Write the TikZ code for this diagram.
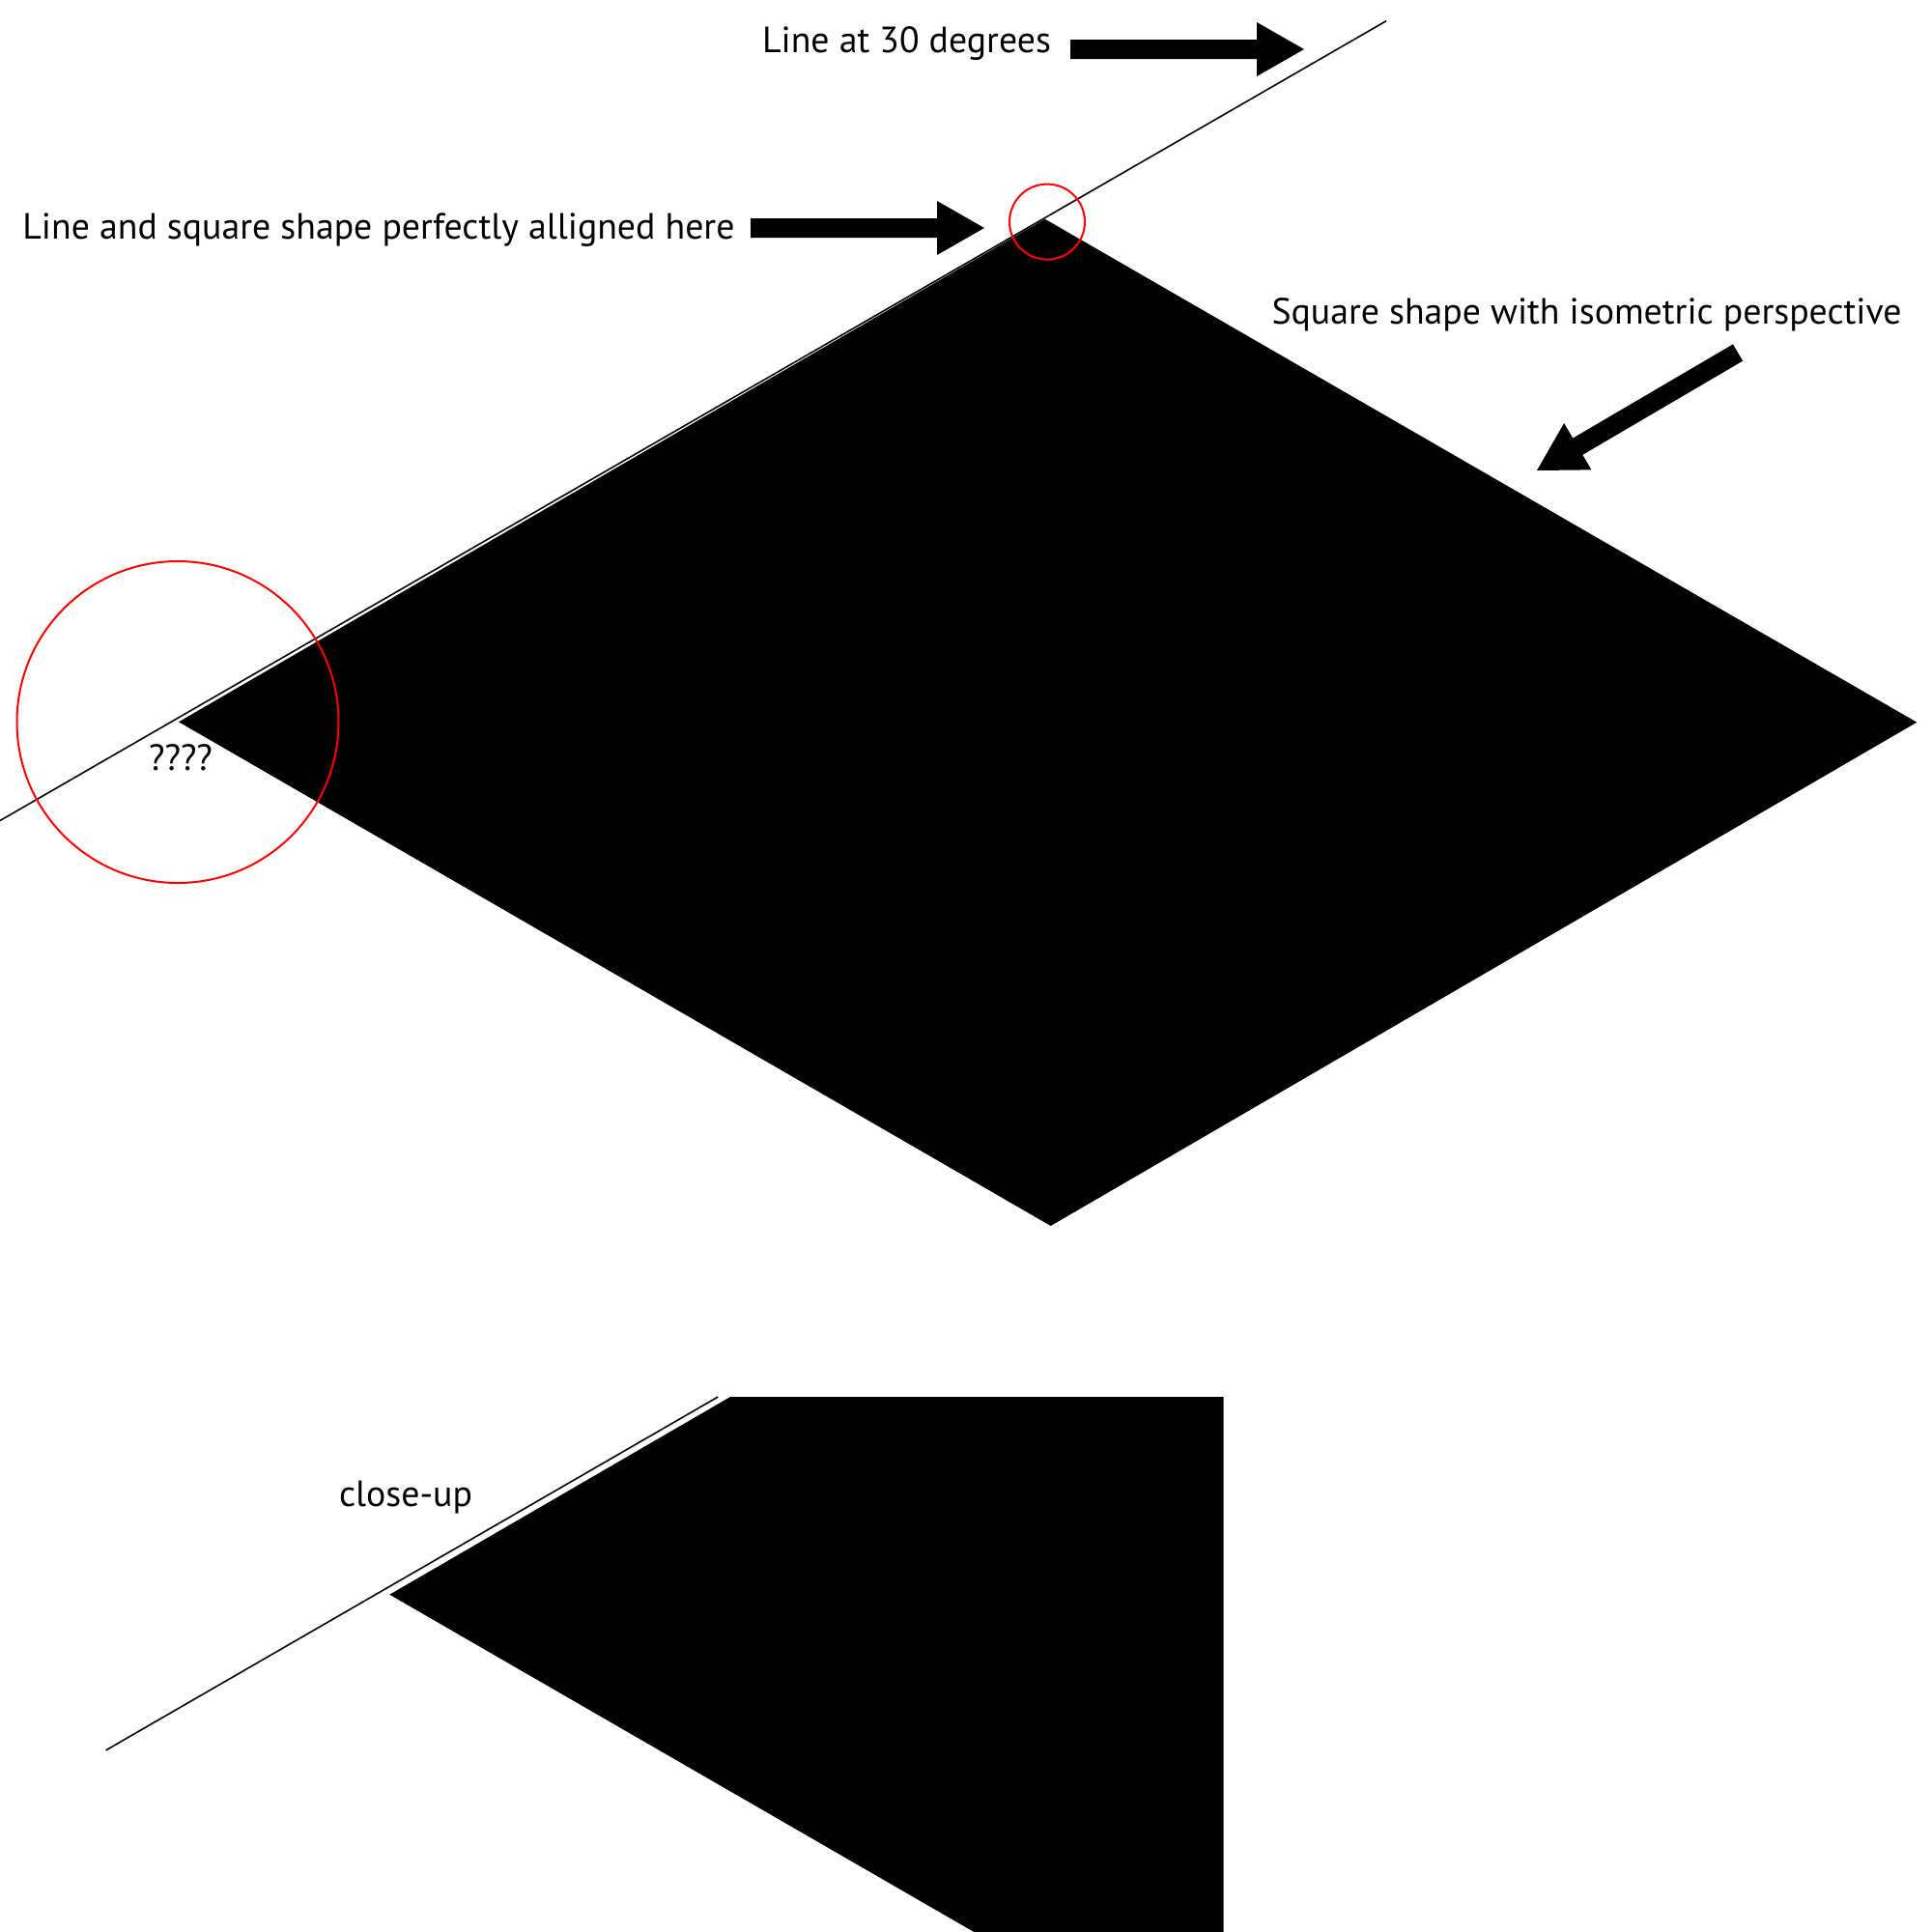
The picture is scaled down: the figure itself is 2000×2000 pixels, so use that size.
\documentclass[tikz,border=0pt]{standalone}
\usepackage{fontspec}
\setmainfont{PT Sans}
\usetikzlibrary{calc}
\tikzset{
  lbl/.style={font=\fontsize{37.8}{45}\selectfont, inner sep=0pt, anchor=base},
  thinline/.style={line width=1.6pt, draw=black},
  redring/.style={draw=red, line width=2pt},
  solidshape/.style={fill=black},
}
\newcommand\blockarrowdraw[2]{%
  \path ($(#2)!49pt!(#1)$) coordinate (hb);
  \fill[black] ($(#1)!10pt!90:(#2)$) -- ($(hb)!10pt!-90:(#1)$) -- ($(hb)!28pt!-90:(#1)$) -- (#2)
     -- ($(hb)!28pt!90:(#1)$) -- ($(hb)!10pt!90:(#1)$) -- ($(#1)!10pt!-90:(#2)$) -- cycle;
}
\begin{document}
\begin{tikzpicture}[x=1pt,y=-1pt]
\useasboundingbox[fill=white] (0,0) rectangle (2000,2000);

% isometric square
\coordinate (dtop) at (1081.7,226.7);
\coordinate (dright) at (1984.3,747.7);
\coordinate (dbottom) at (1087.7,1269);
\coordinate (dleft) at (185,747.3);
\fill[solidshape] (dtop) -- (dright) -- (dbottom) -- (dleft) -- cycle;

% 30 degree line
\coordinate (la) at (0,849.5);
\coordinate (lb) at (1435,21.7);
\draw[thinline] (la) -- (lb);

% red circles
\draw[redring] (1084,229.6) circle[radius=39];
\draw[redring] (184,747.5) circle[radius=166.5];

% labels
\node[lbl] (t30) at (938.5,54) {Line at 30 degrees};
\node[lbl] (talign) at (392,247) {Line and square shape perfectly alligned here};
\node[lbl] (tsquare) at (1642.5,335) {Square shape with isometric perspective};
\node[lbl] (tq) at (187,797) {????};
\node[lbl] (tclose) at (420,1559) {close-up};

% block arrows
\coordinate (a1t) at (1108,51);  \coordinate (a1h) at (1350,51);
\coordinate (a2t) at (777,236);  \coordinate (a2h) at (1019,236);
\coordinate (a3t) at (1799,365); \coordinate (a3h) at (1591,487);
\blockarrowdraw{a1t}{a1h}
\blockarrowdraw{a2t}{a2h}
\blockarrowdraw{a3t}{a3h}

% close-up
\coordinate (ctl) at (756,1446);
\coordinate (ctr) at (1266.6,1446);
\coordinate (cbr) at (1266.6,2000);
\coordinate (cbl) at (1008.3,2000);
\coordinate (cv) at (403.3,1650.7);
\fill[solidshape] (ctl) -- (ctr) -- (cbr) -- (cbl) -- (cv) -- cycle;
\coordinate (ca) at (109.7,1811.8);
\coordinate (cb) at (743.3,1446);
\draw[thinline] (ca) -- (cb);
\end{tikzpicture}
\end{document}
